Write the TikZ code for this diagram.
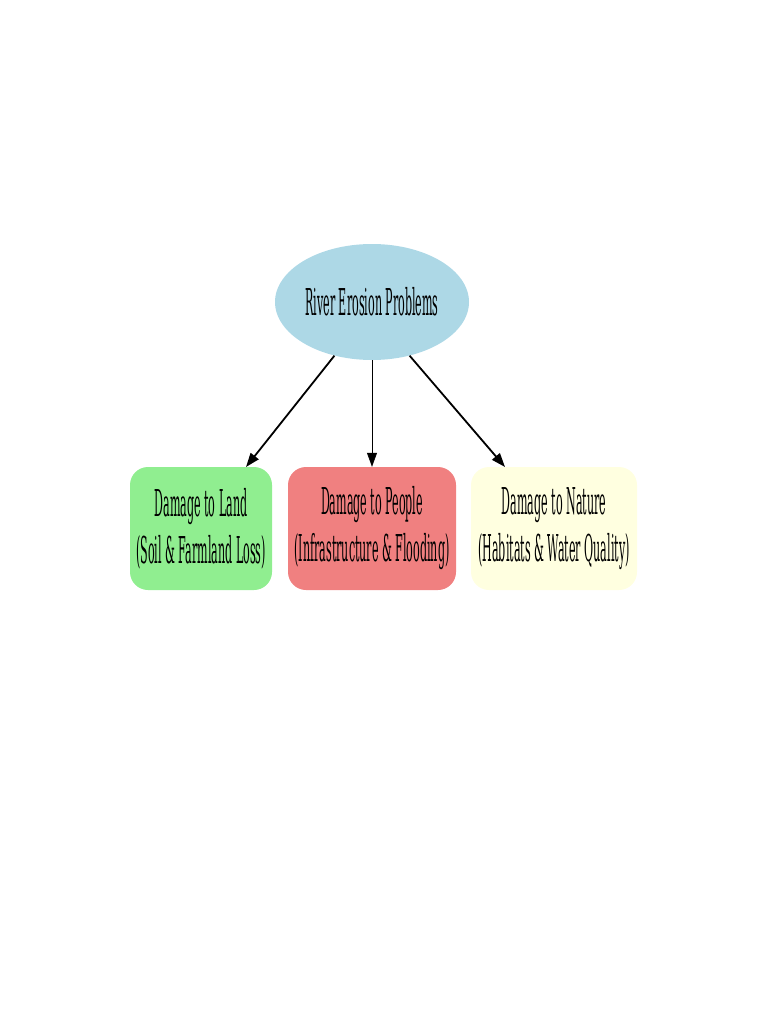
\documentclass[tikz,border=0pt]{standalone}
\usepackage{fontspec}
\usetikzlibrary{shapes.geometric,arrows.meta}
\newfontfamily\dfont[FakeStretch=0.30]{DejaVu Serif}
\definecolor{cblue}{HTML}{ADD8E6}
\definecolor{cgreen}{HTML}{90EE90}
\definecolor{cred}{HTML}{F08080}
\definecolor{cyellow}{HTML}{FFFFE0}
\begin{document}
\begin{tikzpicture}[x=1pt,y=-1pt,
  lbl/.style={font=\dfont\fontsize{37}{47}\selectfont, align=center, text=black},
  boxnode/.style={lbl, rectangle, rounded corners=18pt, inner sep=0pt},
  arr/.style={-{Triangle[length=14pt,width=10pt]}, black},
]
\useasboundingbox (0,0) rectangle (768,1024);
\node[lbl, ellipse, fill=cblue, minimum width=194pt, minimum height=116pt, inner sep=0pt] (root) at (372,302) {River Erosion Problems};
\node[boxnode, fill=cgreen, minimum width=142pt, minimum height=123pt] (land) at (201,528.5) {Damage to Land\\(Soil \& Farmland Loss)};
\node[boxnode, fill=cred, minimum width=168pt, minimum height=123pt] (people) at (372,528.5) {Damage to People\\(Infrastructure \& Flooding)};
\node[boxnode, fill=cyellow, minimum width=166pt, minimum height=123pt] (nature) at (554,528.5) {Damage to Nature\\(Habitats \& Water Quality)};
\coordinate (lt) at (246,467);
\coordinate (rt) at (505,467);
\draw[arr, line width=1.8pt] (root.235) -- (lt);
\draw[arr, line width=0.6pt] (root.south) -- (people.north);
\draw[arr, line width=1.8pt] (root.305) -- (rt);
\end{tikzpicture}
\end{document}
